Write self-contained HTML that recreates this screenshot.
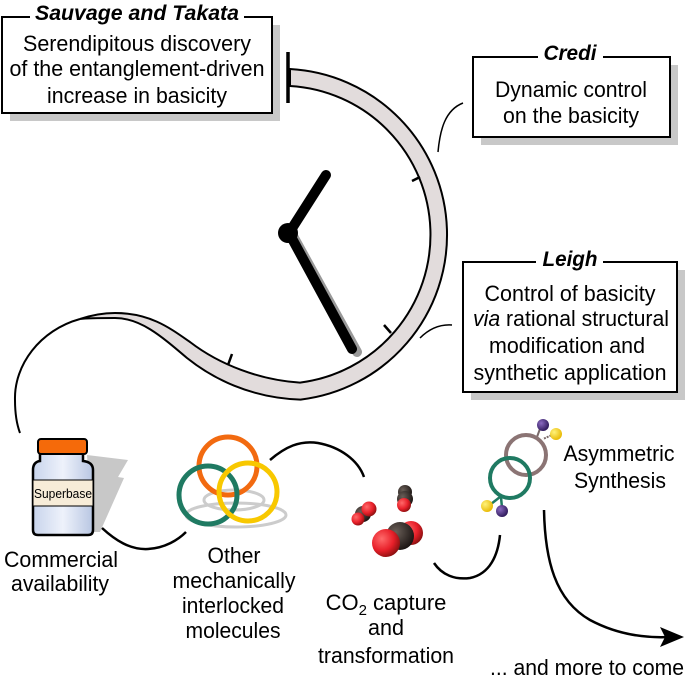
<!DOCTYPE html>
<html><head><meta charset="utf-8"><style>
html,body{margin:0;padding:0;background:#fff;}
svg{display:block;font-family:"Liberation Sans",sans-serif;}
</style></head><body>
<svg width="685" height="678" viewBox="0 0 685 678" xmlns="http://www.w3.org/2000/svg">
<defs>
<radialGradient id="red" cx="0.35" cy="0.35" r="0.7"><stop offset="0" stop-color="#ff6a6a"/><stop offset="0.6" stop-color="#e8202a"/><stop offset="1" stop-color="#8a1010"/></radialGradient>
<radialGradient id="blk" cx="0.35" cy="0.35" r="0.7"><stop offset="0" stop-color="#6a5f58"/><stop offset="1" stop-color="#1a1412"/></radialGradient>
<radialGradient id="pur" cx="0.35" cy="0.35" r="0.7"><stop offset="0" stop-color="#8a6ac0"/><stop offset="1" stop-color="#2c1858"/></radialGradient>
<radialGradient id="yel" cx="0.35" cy="0.35" r="0.7"><stop offset="0" stop-color="#fff27a"/><stop offset="1" stop-color="#e8b800"/></radialGradient>
<linearGradient id="bot" x1="0" x2="1"><stop offset="0" stop-color="#c8d4ec"/><stop offset="0.5" stop-color="#eef2fb"/><stop offset="1" stop-color="#b8c6e2"/></linearGradient>
</defs>

<rect x="10" y="25" width="270" height="96" fill="#c8c8c8"/>
<rect x="2" y="17" width="270" height="96" fill="#fff" stroke="#000" stroke-width="2"/>
<rect x="30" y="6" width="214" height="16" fill="#fff"/>
<text x="137" y="20" font-size="21" font-weight="bold" font-style="italic" text-anchor="middle" textLength="204" lengthAdjust="spacingAndGlyphs">Sauvage and Takata</text>
<text x="137" y="51" font-size="22" text-anchor="middle" textLength="228" lengthAdjust="spacingAndGlyphs">Serendipitous discovery</text>
<text x="137" y="76" font-size="22" text-anchor="middle" textLength="255" lengthAdjust="spacingAndGlyphs">of the entanglement-driven</text>
<text x="137" y="103" font-size="22" text-anchor="middle" textLength="180" lengthAdjust="spacingAndGlyphs">increase in basicity</text>

<rect x="481" y="65" width="197" height="80" fill="#c8c8c8"/>
<rect x="473" y="57" width="197" height="80" fill="#fff" stroke="#000" stroke-width="2"/>
<rect x="538" y="45" width="65" height="16" fill="#fff"/>
<text x="570" y="60" font-size="21" font-weight="bold" font-style="italic" text-anchor="middle" textLength="53" lengthAdjust="spacingAndGlyphs">Credi</text>
<text x="571" y="97" font-size="22" text-anchor="middle" textLength="152" lengthAdjust="spacingAndGlyphs">Dynamic control</text>
<text x="571" y="123" font-size="22" text-anchor="middle" textLength="136" lengthAdjust="spacingAndGlyphs">on the basicity</text>

<rect x="471" y="270" width="214" height="130" fill="#c8c8c8"/>
<rect x="463" y="262" width="214" height="130" fill="#fff" stroke="#000" stroke-width="2"/>
<rect x="536" y="250" width="67" height="16" fill="#fff"/>
<text x="570" y="266" font-size="21" font-weight="bold" font-style="italic" text-anchor="middle" textLength="55" lengthAdjust="spacingAndGlyphs">Leigh</text>
<text x="570" y="301" font-size="22" text-anchor="middle" textLength="171" lengthAdjust="spacingAndGlyphs">Control of basicity</text>
<text x="571" y="326" font-size="22" text-anchor="middle" textLength="196" lengthAdjust="spacingAndGlyphs"><tspan font-style="italic">via</tspan> rational structural</text>
<text x="567" y="353" font-size="22" text-anchor="middle" textLength="156" lengthAdjust="spacingAndGlyphs">modification and</text>
<text x="570" y="380" font-size="22" text-anchor="middle" textLength="193" lengthAdjust="spacingAndGlyphs">synthetic application</text>

<line x1="288" y1="52" x2="288" y2="103" stroke="#000" stroke-width="3.5"/>

<path d="M290,69 A166,166 0 0 1 300.6,399.6 C250,398 212,378 187,358 C160,335 140,318 115,318 C100,318 88,318 80,319 C95,314 105,313 115,313 C150,313 170,328 190,342 C220,365 260,380 300,382.6 A149,149 0 0 0 290,86 Z" fill="#e2dcdc" stroke="#000" stroke-width="2"/>
<path d="M80,319 C40,330 14,365 15,400 C15,415 17,425 20,433" fill="none" stroke="#000" stroke-width="2"/>

<line x1="412" y1="181" x2="420" y2="177" stroke="#000" stroke-width="2.5"/>
<line x1="384" y1="325" x2="391" y2="333" stroke="#000" stroke-width="2.5"/>
<line x1="228" y1="365" x2="232" y2="354" stroke="#000" stroke-width="2.5"/>

<path d="M463,103 C445,110 440,130 438,152" fill="none" stroke="#000" stroke-width="1.5"/>
<path d="M452,325 C438,324 428,330 420,338" fill="none" stroke="#000" stroke-width="1.5"/>

<line x1="293" y1="236" x2="357" y2="352" stroke="#999" stroke-width="10" stroke-linecap="round"/>
<line x1="289" y1="233" x2="352" y2="349" stroke="#000" stroke-width="10" stroke-linecap="round"/>
<line x1="289" y1="233" x2="326" y2="175" stroke="#000" stroke-width="10" stroke-linecap="round"/>
<circle cx="288" cy="233" r="10" fill="#000"/>

<path d="M87,455 L128,460 L118,477 L124,478 L100,532 L93,532 Z" fill="#c8c8c8"/>
<path d="M40,453 H83 V461 Q93,462 93,470 V530 Q93,535 88,535 H38 Q33,535 33,530 V470 Q33,462 40,461 Z" fill="url(#bot)" stroke="#000" stroke-width="2.5"/>
<rect x="33" y="480" width="60" height="26" fill="#f7ecd8" stroke="#000" stroke-width="1"/>
<text x="63" y="498" font-size="13" text-anchor="middle" textLength="58" lengthAdjust="spacingAndGlyphs">Superbase</text>
<rect x="38" y="439" width="49" height="15" rx="3" fill="#f56a0a" stroke="#000" stroke-width="2"/>
<text x="61" y="567" font-size="22" text-anchor="middle" textLength="114" lengthAdjust="spacingAndGlyphs">Commercial</text>
<text x="60" y="591" font-size="22" text-anchor="middle" textLength="98" lengthAdjust="spacingAndGlyphs">availability</text>

<ellipse cx="234" cy="500" rx="30" ry="10" fill="none" stroke="#ccc" stroke-width="3"/>
<ellipse cx="236" cy="515" rx="50" ry="12" fill="none" stroke="#ccc" stroke-width="3"/>
<circle cx="228" cy="466" r="29" fill="none" stroke="#f26a10" stroke-width="5"/>
<circle cx="208" cy="495" r="29" fill="none" stroke="#1f7a62" stroke-width="5"/>
<circle cx="248" cy="492" r="29" fill="none" stroke="#f8c800" stroke-width="5"/>
<text x="234" y="563" font-size="22" text-anchor="middle" textLength="53" lengthAdjust="spacingAndGlyphs">Other</text>
<text x="234" y="588" font-size="22" text-anchor="middle" textLength="123" lengthAdjust="spacingAndGlyphs">mechanically</text>
<text x="233" y="613" font-size="22" text-anchor="middle" textLength="102" lengthAdjust="spacingAndGlyphs">interlocked</text>
<text x="233" y="638" font-size="22" text-anchor="middle" textLength="95" lengthAdjust="spacingAndGlyphs">molecules</text>

<path d="M102,528 C115,540 130,550 148,549 C165,548 178,540 186,532" fill="none" stroke="#000" stroke-width="2.5"/>
<path d="M270,460 C285,447 300,440 318,443 C340,447 358,460 364,477" fill="none" stroke="#000" stroke-width="2.5"/>
<path d="M434,563 C442,575 455,580 470,578 C490,574 498,555 500,535" fill="none" stroke="#000" stroke-width="2.5"/>
<path d="M544,510 C545,560 555,600 590,620 C620,636 650,638 670,637" fill="none" stroke="#000" stroke-width="2.5"/>
<path d="M684,637 L660,627 L665,637 L660,647 Z" fill="#000"/>

<g>
<circle cx="363" cy="514" r="8" fill="url(#blk)"/><circle cx="369" cy="509" r="7.5" fill="url(#red)"/><circle cx="358" cy="519" r="6.5" fill="url(#red)"/>
<circle cx="405" cy="492" r="7" fill="url(#blk)"/><circle cx="405" cy="499" r="8" fill="url(#blk)"/><circle cx="404" cy="505" r="7" fill="url(#red)"/>
<circle cx="411" cy="533" r="12" fill="url(#red)"/><circle cx="400" cy="536" r="14" fill="url(#blk)"/><circle cx="386" cy="543" r="14" fill="url(#red)"/>
</g>
<text x="386" y="610" font-size="22" text-anchor="middle">CO<tspan font-size="15" dy="5">2</tspan><tspan dy="-5"> capture</tspan></text>
<text x="386" y="635" font-size="22" text-anchor="middle" textLength="36" lengthAdjust="spacingAndGlyphs">and</text>
<text x="386" y="663" font-size="22" text-anchor="middle" textLength="136" lengthAdjust="spacingAndGlyphs">transformation</text>

<line x1="541" y1="426" x2="537" y2="437" stroke="#7a6a6a" stroke-width="2"/>
<line x1="554" y1="434" x2="543" y2="439" stroke="#7a6a6a" stroke-width="2" stroke-dasharray="2,1"/>
<line x1="500" y1="497" x2="491" y2="504" stroke="#1f7a62" stroke-width="2.5"/>
<line x1="501" y1="497" x2="502" y2="508" stroke="#1f7a62" stroke-width="2.5"/>
<circle cx="526" cy="455" r="20" fill="none" stroke="#8b7474" stroke-width="4"/>
<circle cx="510" cy="478" r="20" fill="none" stroke="#1f7a62" stroke-width="4"/>
<circle cx="543" cy="425" r="6" fill="url(#pur)"/>
<circle cx="556" cy="434" r="6" fill="url(#yel)"/>
<circle cx="487" cy="506" r="6" fill="url(#yel)"/>
<circle cx="502" cy="511" r="6" fill="url(#pur)"/>
<text x="619" y="461" font-size="22" text-anchor="middle" textLength="111" lengthAdjust="spacingAndGlyphs">Asymmetric</text>
<text x="620" y="488" font-size="22" text-anchor="middle" textLength="92" lengthAdjust="spacingAndGlyphs">Synthesis</text>
<text x="587" y="675" font-size="22" text-anchor="middle" textLength="194" lengthAdjust="spacingAndGlyphs">... and more to come</text>
</svg>
</body></html>
